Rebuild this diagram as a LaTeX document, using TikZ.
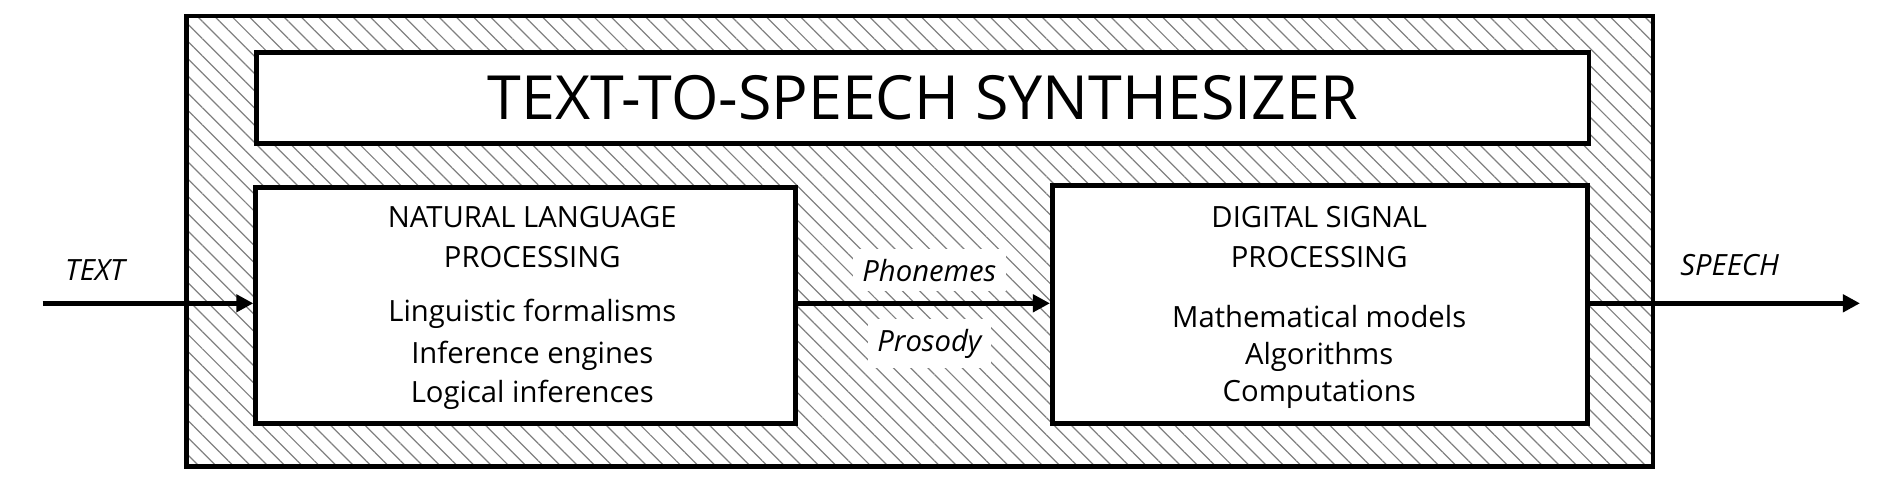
\documentclass[tikz,border=0pt]{standalone}
\usepackage{fontspec}
\setmainfont{Open Sans}
\usetikzlibrary{patterns.meta,arrows.meta}
\begin{document}
\begin{tikzpicture}[x=0.5pt,y=-0.5pt,
  box/.style={draw,line width=2pt,fill=white},
  body/.style={font=\fontsize{12}{14}\selectfont},
  lab/.style={font=\fontsize{12}{14}\selectfont\itshape},
  flow/.style={line width=2.2pt,-{Triangle[length=7pt,width=7pt]}}]
\useasboundingbox (0,0) rectangle (1550,403);
\path[pattern={Lines[angle=-45,distance=5pt,line width=0.5pt]},pattern color=gray]
  (153,13) rectangle (1357,383);
\draw[line width=1.8pt] (153,13) rectangle (1357,383);
\node[box,minimum width=547pt,minimum height=37.5pt] (title) at (757.5,80.5)
  {\fontsize{25}{28}\selectfont TEXT-TO-SPEECH SYNTHESIZER};
\node[box,minimum width=221.5pt,minimum height=97pt] (nlp) at (431.5,251) {};
\node[box,minimum width=219.5pt,minimum height=98pt] (dsp) at (1083.5,250) {};
\foreach \t/\y in {NATURAL LANGUAGE/178,PROCESSING/211,Linguistic formalisms/258,Inference engines/292,Logical inferences/324}
  \node[body] at (437,\y) {\t};
\foreach \t/\y in {DIGITAL SIGNAL/178,PROCESSING/211,Mathematical models/260,Algorithms/293,Computations/324}
  \node[body] at (1083,\y) {\t};
\coordinate (in) at (35,249);
\coordinate (out) at (1527,249);
\draw[flow] (in) -- (nlp.west |- in);
\draw[flow] (nlp.east |- in) -- (dsp.west |- in);
\draw[flow] (dsp.east |- out) -- (out);
\node[lab] (t) at (78,222) {TEXT};
\node[lab] (s) at (1420,218) {SPEECH};
\node[lab,fill=white,inner sep=4pt] (ph) at (763,222) {Phonemes};
\node[lab,fill=white,inner sep=4pt] (pr) at (763,282) {Prosody};
\end{tikzpicture}
\end{document}
